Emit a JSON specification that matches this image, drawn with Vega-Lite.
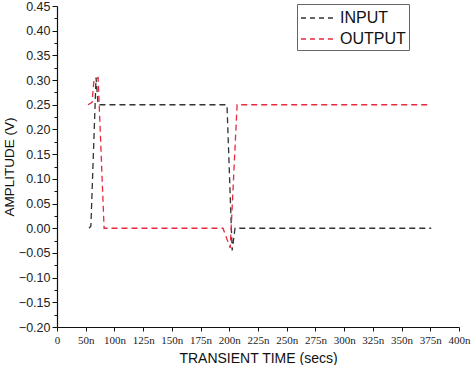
{
  "$schema": "https://vega.github.io/schema/vega-lite/v6.json",
  "width": 402,
  "height": 321,
  "autosize": "none",
  "padding": {"left": 57, "top": 6, "right": 15, "bottom": 38},
  "background": "white",
  "data": {
    "values": [
      {"series": "INPUT", "t": 27.9, "v": 0.0},
      {"series": "INPUT", "t": 29.5, "v": 0.004},
      {"series": "INPUT", "t": 34.0, "v": 0.305},
      {"series": "INPUT", "t": 35.8, "v": 0.25},
      {"series": "INPUT", "t": 148.0, "v": 0.25},
      {"series": "INPUT", "t": 152.5, "v": -0.045},
      {"series": "INPUT", "t": 155.0, "v": 0.0},
      {"series": "INPUT", "t": 325.8, "v": 0.0},
      {"series": "OUTPUT", "t": 27.0, "v": 0.25},
      {"series": "OUTPUT", "t": 30.5, "v": 0.255},
      {"series": "OUTPUT", "t": 32.2, "v": 0.3},
      {"series": "OUTPUT", "t": 35.8, "v": 0.305},
      {"series": "OUTPUT", "t": 41.0, "v": 0.0},
      {"series": "OUTPUT", "t": 144.5, "v": 0.0},
      {"series": "OUTPUT", "t": 150.8, "v": -0.04},
      {"series": "OUTPUT", "t": 156.8, "v": 0.25},
      {"series": "OUTPUT", "t": 325.8, "v": 0.25}
    ]
  },
  "mark": {"type": "line", "strokeDash": [6, 4], "strokeWidth": 1.3},
  "encoding": {
    "x": {
      "field": "t",
      "type": "quantitative",
      "scale": {"domain": [0, 350], "nice": false, "zero": false},
      "axis": {
        "title": "TRANSIENT TIME (secs)",
        "values": [0, 25, 50, 75, 100, 125, 150, 175, 200, 225, 250, 275, 300, 325, 350],
        "labelExpr": "datum.value == 0 ? '0' : datum.value == 25 ? '50n' : (datum.value + 50) + 'n'",
        "labelFont": "Liberation Serif",
        "labelFontSize": 11,
        "labelColor": "#222",
        "labelPadding": 3,
        "labelFlush": false,
        "labelOverlap": false,
        "tickSize": 4,
        "tickColor": "#111",
        "domainColor": "#111",
        "domainWidth": 1.2,
        "grid": false,
        "titleFont": "Liberation Sans",
        "titleFontSize": 14,
        "titleFontWeight": "normal",
        "titleColor": "#111",
        "titlePadding": 6
      }
    },
    "y": {
      "field": "v",
      "type": "quantitative",
      "scale": {"domain": [-0.2, 0.45], "nice": false, "zero": false},
      "axis": {
        "title": "AMPLITUDE (V)",
        "values": [-0.2, -0.175, -0.15, -0.125, -0.1, -0.075, -0.05, -0.025, 0, 0.025, 0.05, 0.075, 0.1, 0.125, 0.15, 0.175, 0.2, 0.225, 0.25, 0.275, 0.3, 0.325, 0.35, 0.375, 0.4, 0.425, 0.45],
        "labelExpr": "abs(round(datum.value*20) - datum.value*20) < 0.001 ? format(datum.value, '.2f') : ''",
        "tickSize": {"condition": {"test": "abs(round(datum.value*20) - datum.value*20) < 0.001", "value": 5}, "value": 3},
        "labelFont": "Liberation Sans",
        "labelFontSize": 12.5,
        "labelColor": "#222",
        "labelPadding": 2,
        "labelFlush": false,
        "labelOverlap": false,
        "tickColor": "#111",
        "domainColor": "#111",
        "domainWidth": 1.2,
        "grid": false,
        "titleFont": "Liberation Sans",
        "titleFontSize": 13.5,
        "titleFontWeight": "normal",
        "titleColor": "#111",
        "titlePadding": 2
      }
    },
    "color": {
      "field": "series",
      "type": "nominal",
      "scale": {"domain": ["INPUT", "OUTPUT"], "range": ["#333333", "#e8283c"]},
      "legend": {
        "title": null,
        "orient": "none",
        "legendX": 240,
        "legendY": -2,
        "symbolType": "M-1,0H2.6",
        "symbolDash": [5, 4],
        "symbolStrokeWidth": 1.3,
        "symbolSize": 400,
        "labelFont": "Liberation Sans",
        "labelFontSize": 16,
        "labelColor": "#111",
        "labelOffset": 18,
        "rowPadding": 2,
        "padding": 3,
        "strokeColor": "#666",
        "fillColor": "white"
      }
    }
  },
  "config": {"view": {"stroke": null}}
}
